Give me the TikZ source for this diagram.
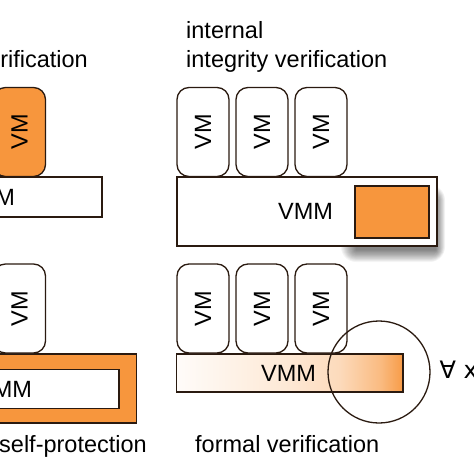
\documentclass[tikz,border=0pt]{standalone}
\usepackage{fontspec}
\setmainfont{Liberation Sans}
\newfontfamily\djv{DejaVu Sans}
\definecolor{vorange}{HTML}{F7963D}
\definecolor{edge}{HTML}{2A1A10}
\pgfdeclarehorizontalshading{vmmgrad}{100bp}{color(0bp)=(vorange!3); color(25bp)=(vorange!3); color(50bp)=(vorange!22); color(61bp)=(vorange!35); color(70bp)=(vorange!65); color(75bp)=(vorange!95); color(100bp)=(vorange!95)}
\begin{document}
\begin{tikzpicture}[x=1pt,y=-1pt,
  font=\fontsize{23.5}{28}\selectfont,
  line/.style={draw=edge, line width=1.3pt},
  vmbox/.style={line, fill=white, rounded corners=12pt, rotate=90,
    minimum width=89pt, minimum height=52pt, inner sep=0pt},
  vmorange/.style={vmbox, fill=vorange},
  plainbox/.style={line, fill=white, inner sep=0pt},
  lbl/.style={inner sep=0pt}]
\useasboundingbox (0,0) rectangle (474,474);

% soft shadow of the integrity box
\foreach \i in {0,...,15}
  \fill[black, opacity=0.04, rounded corners=\i pt] (356-\i,200-\i) rectangle (436+0.6*\i,250+0.8*\i);

% ---- top left: verification
\node[lbl, anchor=base east] (tltitle) at (88,67) {verification};
\node[plainbox, minimum width=229pt, minimum height=40pt] (tlvmm) at (-12.5,197) {VMM};
\node[vmorange] (tlvm) at (19.5,132) {VM};

% ---- top right: internal integrity verification
\node[lbl, anchor=base west] (trtitle1) at (186,38) {internal};
\node[lbl, anchor=base west] (trtitle2) at (186,67) {integrity verification};
\node[plainbox, minimum width=260pt, minimum height=69pt] (trvmm) at (307,211.5) {};
\node[lbl] (trvmmtext) at (305.5,211.5) {VMM};
\node[line, fill=vorange, minimum width=74pt, minimum height=52pt, inner sep=0pt] (trsq) at (392,212) {};
\node[vmbox] (trvm1) at (203,132) {VM};
\node[vmbox] (trvm2) at (262,132) {VM};
\node[vmbox] (trvm3) at (321,132) {VM};

% ---- bottom left: self-protection
\node[line, fill=vorange, minimum width=266.7pt, minimum height=69pt] (blframe) at (3.35,388.5) {};
\node[plainbox, minimum width=229pt, minimum height=39.5pt] (blvmm) at (4.5,389) {VMM};
\node[vmbox] (blvm) at (19.5,308.5) {VM};
\node[lbl, anchor=base east] (bltitle) at (147,452) {self-protection};

% ---- bottom right: formal verification
\node[line, shading=vmmgrad, minimum width=226.3pt, minimum height=38pt, inner sep=0pt] (brvmm) at (289.85,373) {};
\node[lbl] (brvmmtext) at (288.5,373) {VMM};
\node[vmbox] (brvm1) at (203,308.5) {VM};
\node[vmbox] (brvm2) at (262,308.5) {VM};
\node[vmbox] (brvm3) at (321,308.5) {VM};
\node[line, circle, minimum size=102pt, inner sep=0pt] (brcircle) at (379,372) {};
\node[lbl, anchor=base west, font=\djv\fontsize{24}{28}\selectfont] (forall) at (439.5,378) {∀ x};
\node[lbl, anchor=base west] (brtitle) at (195,452) {formal verification};
\end{tikzpicture}
\end{document}
